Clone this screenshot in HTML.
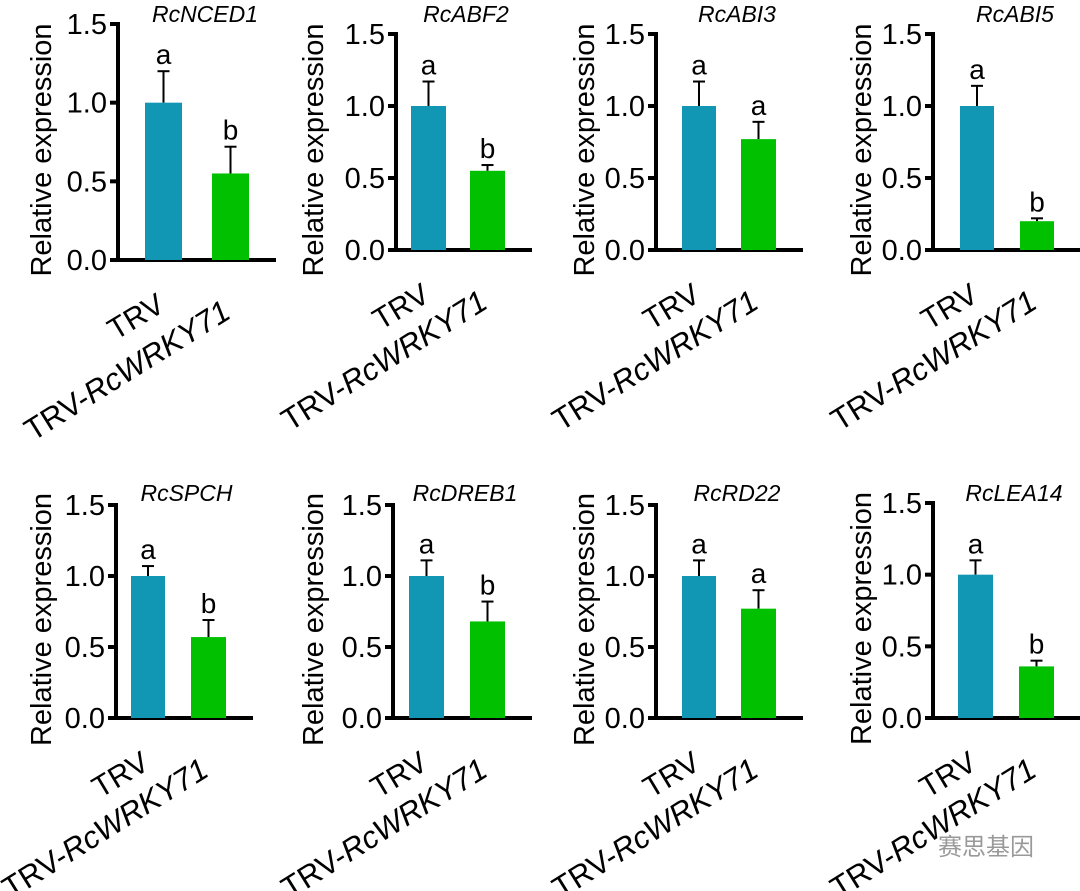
<!DOCTYPE html>
<html><head><meta charset="utf-8"><style>
html,body{margin:0;padding:0;background:#fff;}
svg{display:block;font-family:"Liberation Sans",Arial,sans-serif;}
</style></head><body>
<svg id="s" width="1080" height="891" viewBox="0 0 1080 891" xmlns="http://www.w3.org/2000/svg"></svg>
<script>
const P=[
 {t:"RcNCED1",ax:118,y0:260,y15:24,b1:[145,182],b2:[212,249],v:[1,1.2,.55,.72],l:["a","b"],yl:40,ty:22},
 {t:"RcABF2",ax:396,y0:250,y15:34,b1:[411,446],b2:[470,505],v:[1,1.17,.55,.59],l:["a","b"],yl:312,ty:22},
 {t:"RcABI3",ax:656,y0:250,y15:34,b1:[682,716],b2:[741,776],v:[1,1.17,.77,.89],l:["a","a"],yl:583,ty:22},
 {t:"RcABI5",ax:933,y0:250,y15:34,b1:[960,994],b2:[1020,1054],v:[1,1.14,.2,.22],l:["a","b"],yl:860,ty:22},
 {t:"RcSPCH",ax:116,y0:718,y15:505,b1:[131,165],b2:[191,226],v:[1,1.07,.57,.69],l:["a","b"],yl:40,ty:501},
 {t:"RcDREB1",ax:393,y0:718,y15:505,b1:[409,444],b2:[470,505],v:[1,1.11,.68,.82],l:["a","b"],yl:312,ty:501},
 {t:"RcRD22",ax:656,y0:718,y15:505,b1:[682,716],b2:[741,776],v:[1,1.11,.77,.9],l:["a","a"],yl:583,ty:501},
 {t:"RcLEA14",ax:933,y0:718,y15:503,b1:[958,993],b2:[1019,1054],v:[1,1.1,.36,.4],l:["a","b"],yl:860,ty:501}
];
let h="";
for(const p of P){
 const sc=(p.y0-p.y15)/1.5, Y=v=>p.y0-v*sc, xe=p.b2[1]+27;
 h+=`<line x1="${p.ax}" y1="${p.y15-2}" x2="${p.ax}" y2="${p.y0+2}" stroke="#000" stroke-width="4"/>`;
 h+=`<line x1="${p.ax-2}" y1="${p.y0}" x2="${xe}" y2="${p.y0}" stroke="#000" stroke-width="4"/>`;
 for(const t of [0,.5,1,1.5]){const y=Y(t);
  h+=`<line x1="${p.ax-8}" y1="${y}" x2="${p.ax}" y2="${y}" stroke="#000" stroke-width="4"/>`;
  h+=`<text x="${p.ax-11}" y="${y+10}" font-size="29" text-anchor="end">${t.toFixed(1)}</text>`;}
 h+=`<text transform="translate(${p.yl+11},${(p.y0+p.y15)/2+8}) rotate(-90)" font-size="29" text-anchor="middle">Relative expression</text>`;
 h+=`<text x="${(p.b1[0]+p.b2[1])/2+8}" y="${p.ty}" font-size="23" font-style="italic" text-anchor="middle">${p.t}</text>`;
 const bars=[[p.b1,p.v[0],p.v[1],"#1196b4",p.l[0]],[p.b2,p.v[2],p.v[3],"#00c000",p.l[1]]];
 for(const [b,v,e,c,l] of bars){const m=(b[0]+b[1])/2;
  h+=`<line x1="${m}" y1="${Y(v)}" x2="${m}" y2="${Y(e)}" stroke="#000" stroke-width="2"/>`;
  h+=`<line x1="${m-6}" y1="${Y(e)}" x2="${m+6}" y2="${Y(e)}" stroke="#000" stroke-width="2"/>`;
  h+=`<rect x="${b[0]}" y="${Y(v)}" width="${b[1]-b[0]}" height="${v*sc}" fill="${c}"/>`;
  h+=`<text x="${m}" y="${Y(e)-7}" font-size="28" text-anchor="middle">${l}</text>`;}
 const m1=(p.b1[0]+p.b1[1])/2, m2=(p.b2[0]+p.b2[1])/2;
 h+=`<text transform="translate(${m1+3},${p.y0+50}) rotate(-31)" font-size="30" text-anchor="end">TRV</text>`;
 h+=`<text transform="translate(${m2+2},${p.y0+57}) rotate(-32)" font-size="31" text-anchor="end">TRV-<tspan font-style="italic">RcWRKY71</tspan></text>`;
}
h+=`<text x="938" y="855" font-size="24" fill="#999" font-family="'Noto Sans CJK SC',sans-serif">赛思基因</text>`;
document.getElementById("s").innerHTML=h;
</script>
</body></html>
